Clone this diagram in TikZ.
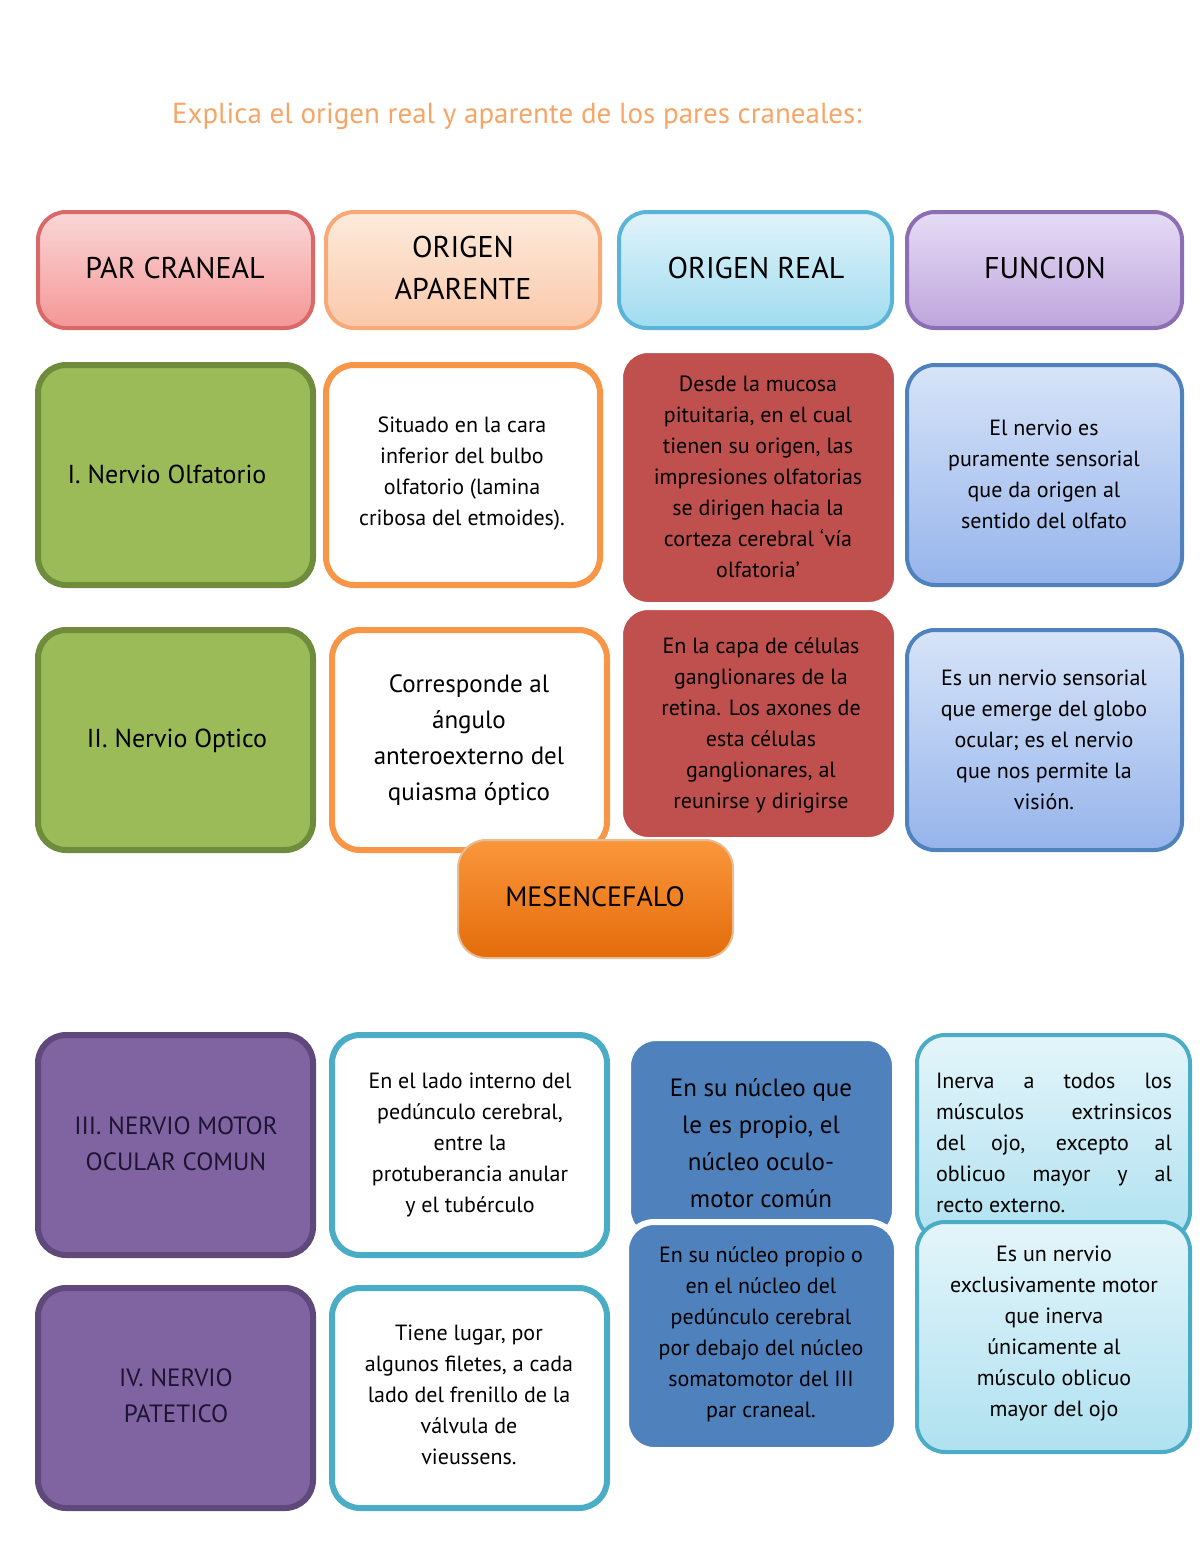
\documentclass[tikz,border=0pt]{standalone}
\usepackage{fontspec}
\setmainfont{PT Sans}
\begin{document}
\begin{tikzpicture}[x=0.5pt,y=-0.5pt,
 bx/.style={rounded corners=14pt,line width=2pt},
 tx/.style={align=center,font=\fontsize{11}{15.5}\selectfont,inner sep=0pt},
 hd/.style={align=center,font=\fontsize{15}{21}\selectfont,inner sep=0pt}]
\definecolor{ttl}{HTML}{F7A567}
\useasboundingbox (0,0) rectangle (1200,1553);
\node[font=\fontsize{14.5}{17}\selectfont,text=ttl,anchor=west] (title) at (165,116) {Explica el origen real y aparente de los pares craneales:};
% headers
\draw[bx,draw={rgb,255:red,217;green,105;blue,105},top color={rgb,255:red,250;green,215;blue,215},bottom color={rgb,255:red,245;green,150;blue,150}] (38,212) rectangle (313,328);
\node[hd] (h1) at (175,268) {PAR CRANEAL};
\draw[bx,draw={rgb,255:red,247;green,170;blue,120},top color={rgb,255:red,253;green,235;blue,220},bottom color={rgb,255:red,250;green,200;blue,170}] (326,212) rectangle (600,328);
\node[hd] (h2) at (463,268) {ORIGEN\\APARENTE};
\draw[bx,draw={rgb,255:red,90;green,180;blue,215},top color={rgb,255:red,225;green,243;blue,250},bottom color={rgb,255:red,160;green,220;blue,240}] (619,212) rectangle (892,328);
\node[hd] (h3) at (756,268) {ORIGEN REAL};
\draw[bx,draw={rgb,255:red,140;green,110;blue,180},top color={rgb,255:red,230;green,220;blue,245},bottom color={rgb,255:red,190;green,165;blue,220}] (907,212) rectangle (1182,328);
\node[hd] (h4) at (1045,268) {FUNCION};
% row1
\draw[bx,line width=3pt,draw={rgb,255:red,110;green,140;blue,60},fill={rgb,255:red,155;green,187;blue,89}] (38,365) rectangle (313,585);
\node[tx,font=\fontsize{13}{17}\selectfont] (a1) at (167,474) {I. Nervio Olfatorio};
\draw[bx,line width=3pt,draw={rgb,255:red,247;green,150;blue,70},fill=white] (326,365) rectangle (600,585);
\node[tx] (b1) at (462,474) {Situado en la cara\\inferior del bulbo\\olfatorio (lamina\\cribosa del etmoides).};
\draw[bx,line width=3pt,draw=white,fill={rgb,255:red,192;green,80;blue,77}] (620,350) rectangle (897,605);
\node[tx] (c1) at (758,477) {Desde la mucosa\\pituitaria, en el cual\\tienen su origen, las\\impresiones olfatorias\\se dirigen hacia la\\corteza cerebral ‘vía\\olfatoria’};
\draw[bx,draw={rgb,255:red,79;green,129;blue,189},top color={rgb,255:red,215;green,228;blue,248},bottom color={rgb,255:red,150;green,180;blue,235}] (907,365) rectangle (1182,585);
\node[tx] (d1) at (1044,474) {El nervio es\\puramente sensorial\\que da origen al\\sentido del olfato};
% row2
\draw[bx,line width=3pt,draw={rgb,255:red,110;green,140;blue,60},fill={rgb,255:red,155;green,187;blue,89}] (38,630) rectangle (313,850);
\node[tx,font=\fontsize{13}{17}\selectfont] (a2) at (177,741) {II. Nervio Optico};
\draw[bx,line width=3pt,draw={rgb,255:red,247;green,150;blue,70},fill=white] (332,630) rectangle (607,850);
\node[tx,font=\fontsize{12.5}{18}\selectfont] (b2) at (469,740) {Corresponde al\\ángulo\\anteroexterno del\\quiasma óptico};
\draw[bx,line width=3pt,draw=white,fill={rgb,255:red,192;green,80;blue,77}] (620,607) rectangle (897,840);
\node[tx] (c2) at (761,725) {En la capa de células\\ganglionares de la\\retina. Los axones de\\esta células\\ganglionares, al\\reunirse y dirigirse};
\draw[bx,draw={rgb,255:red,79;green,129;blue,189},top color={rgb,255:red,215;green,228;blue,248},bottom color={rgb,255:red,150;green,180;blue,235}] (907,630) rectangle (1182,850);
\node[tx] (d2) at (1044,740) {Es un nervio sensorial\\que emerge del globo\\ocular; es el nervio\\que nos permite la\\visión.};
% mesencefalo
\draw[bx,line width=1pt,draw={rgb,255:red,230;green,190;blue,150},top color={rgb,255:red,250;green,150;blue,60},bottom color={rgb,255:red,228;green,108;blue,10}] (458,840) rectangle (733,958);
\node[hd,font=\fontsize{14}{18}\selectfont] (m) at (595,897) {MESENCEFALO};
% row3
\draw[bx,line width=3pt,draw={rgb,255:red,95;green,73;blue,122},fill={rgb,255:red,128;green,100;blue,162}] (38,1035) rectangle (313,1255);
\node[tx,font=\fontsize{12.5}{18}\selectfont,text={rgb,255:red,30;green,20;blue,50}] (a3) at (176,1144) {III. NERVIO MOTOR\\OCULAR COMUN};
\draw[bx,line width=3pt,draw={rgb,255:red,75;green,172;blue,198},fill=white] (332,1035) rectangle (607,1255);
\node[tx] (b3) at (470,1145) {En el lado interno del\\pedúnculo cerebral,\\entre la\\protuberancia anular\\y el tubérculo};
\draw[bx,line width=3pt,draw=white,fill={rgb,255:red,79;green,129;blue,189}] (628,1038) rectangle (895,1238);
\node[tx,font=\fontsize{12.5}{18.5}\selectfont] (c3) at (761,1143) {En su núcleo que\\le es propio, el\\núcleo oculo-\\motor común};
\draw[bx,draw={rgb,255:red,75;green,172;blue,198},top color={rgb,255:red,228;green,245;blue,250},bottom color={rgb,255:red,175;green,225;blue,240}] (917,1035) rectangle (1190,1240);
\node[tx,align=left] (d3) at (1054,1143) {\makebox[118pt][s]{Inerva a todos los}\\\makebox[118pt][s]{músculos extrinsicos}\\\makebox[118pt][s]{del ojo, excepto al}\\\makebox[118pt][s]{oblicuo mayor y al}\\\makebox[118pt][l]{recto externo.}};
% row4
\draw[bx,line width=3pt,draw={rgb,255:red,95;green,73;blue,122},fill={rgb,255:red,128;green,100;blue,162}] (38,1288) rectangle (313,1508);
\node[tx,font=\fontsize{12.5}{18}\selectfont,text={rgb,255:red,30;green,20;blue,50}] (a4) at (176,1396) {IV. NERVIO\\PATETICO};
\draw[bx,line width=3pt,draw={rgb,255:red,75;green,172;blue,198},fill=white] (332,1288) rectangle (607,1508);
\node[tx] (b4) at (469,1395) {Tiene lugar, por\\algunos filetes, a cada\\lado del frenillo de la\\válvula de\\vieussens.};
\draw[bx,line width=3pt,draw=white,fill={rgb,255:red,79;green,129;blue,189}] (626,1222) rectangle (897,1450);
\node[tx] (c4) at (761,1334) {En su núcleo propio o\\en el núcleo del\\pedúnculo cerebral\\por debajo del núcleo\\somatomotor del III\\par craneal.};
\draw[bx,draw={rgb,255:red,75;green,172;blue,198},top color={rgb,255:red,228;green,245;blue,250},bottom color={rgb,255:red,175;green,225;blue,240}] (917,1222) rectangle (1190,1452);
\node[tx] (d4) at (1054,1334) {Es un nervio\\exclusivamente motor\\que inerva\\únicamente al\\músculo oblicuo\\mayor del ojo};
\end{tikzpicture}
\end{document}
